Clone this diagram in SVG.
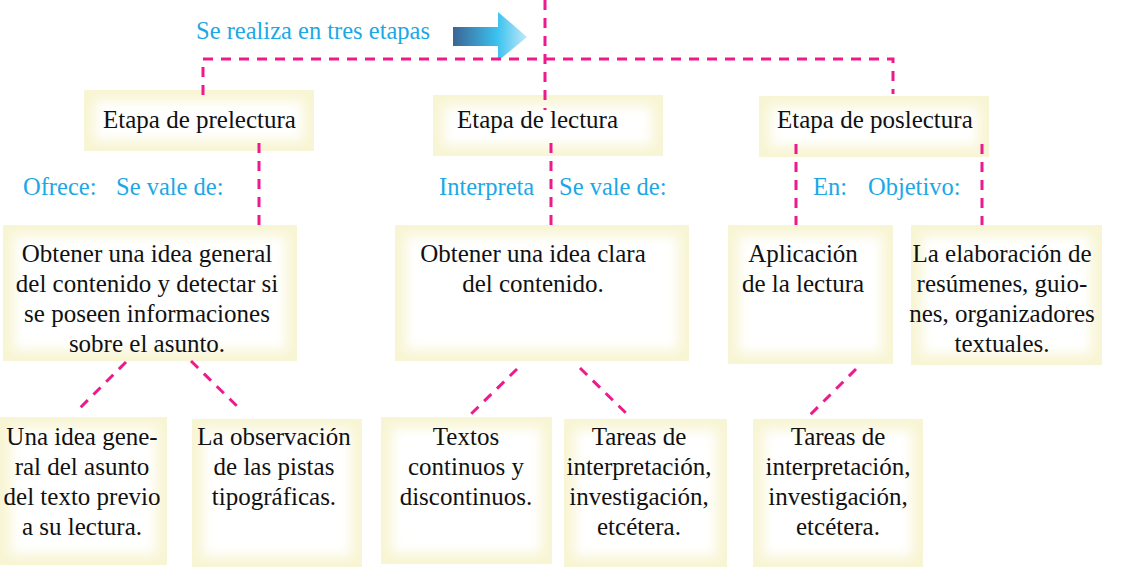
<svg xmlns="http://www.w3.org/2000/svg" width="1139" height="580" viewBox="0 0 1139 580">
<defs>
<style>
.bg{fill:#f8f5d4}
.in{fill:#ffffff;filter:url(#soft)}
.t{font-family:"Liberation Serif","Times New Roman",serif;font-size:25px;fill:#111}
.c{text-anchor:middle}
.b{font-family:"Liberation Serif","Times New Roman",serif;font-size:24.5px;fill:#1ba8e6}
.ln{fill:none;stroke:#ec1a8c;stroke-width:3;stroke-dasharray:10 8}
</style>
<filter id="soft" x="-30%" y="-30%" width="160%" height="160%">
<feGaussianBlur stdDeviation="6"/>
</filter>
<linearGradient id="ag" x1="453" y1="0" x2="527" y2="0" gradientUnits="userSpaceOnUse">
<stop offset="0" stop-color="#3b6594"/>
<stop offset="0.6" stop-color="#3cc2ef"/>
<stop offset="1" stop-color="#c2e9f8"/>
</linearGradient>
</defs>
<rect width="1139" height="580" fill="#ffffff"/>

<g id="header">
<text class="b" x="196" y="39">Se realiza en tres etapas</text>
<path d="M453,27 H498 V12 L527,37 L498,61 V46 H453 Z" fill="url(#ag)"/>
</g>

<g id="n-prelectura">
<rect class="bg" x="84" y="90" width="230" height="61"/>
<rect class="in" x="95" y="101" width="208" height="39"/>
<text class="t" x="103" y="128">Etapa de prelectura</text>
</g>
<g id="n-lectura">
<rect class="bg" x="433" y="95" width="230" height="61"/>
<rect class="in" x="444" y="106" width="208" height="39"/>
<text class="t" x="457" y="128">Etapa de lectura</text>
</g>
<g id="n-poslectura">
<rect class="bg" x="759" y="96" width="230" height="61"/>
<rect class="in" x="770" y="107" width="208" height="39"/>
<text class="t" x="777" y="128">Etapa de poslectura</text>
</g>

<g id="labels">
<text class="b" x="23" y="195">Ofrece:</text>
<text class="b" x="116" y="195">Se vale de:</text>
<text class="b" x="439" y="195">Interpreta</text>
<text class="b" x="559" y="195">Se vale de:</text>
<text class="b" x="813" y="195">En:</text>
<text class="b" x="868" y="195">Objetivo:</text>
</g>

<g id="n-obtener-general">
<rect class="bg" x="3" y="225" width="294" height="136"/>
<rect class="in" x="14" y="236" width="272" height="114"/>
<text class="t c" x="147" y="262">Obtener una idea general</text>
<text class="t c" x="147" y="292">del contenido y detectar si</text>
<text class="t c" x="147" y="322">se poseen informaciones</text>
<text class="t c" x="147" y="352">sobre el asunto.</text>
</g>
<g id="n-obtener-clara">
<rect class="bg" x="395" y="225" width="294" height="136"/>
<rect class="in" x="406" y="236" width="272" height="114"/>
<text class="t c" x="533" y="262">Obtener una idea clara</text>
<text class="t c" x="533" y="292">del contenido.</text>
</g>
<g id="n-aplicacion">
<rect class="bg" x="728" y="225" width="165" height="139"/>
<rect class="in" x="739" y="236" width="143" height="117"/>
<text class="t c" x="803" y="262">Aplicación</text>
<text class="t c" x="803" y="292">de la lectura</text>
</g>
<g id="n-elaboracion">
<rect class="bg" x="911" y="225" width="191" height="140"/>
<rect class="in" x="922" y="236" width="169" height="118"/>
<text class="t c" x="1002" y="262">La elaboración de</text>
<text class="t c" x="1002" y="292">resúmenes, guio-</text>
<text class="t c" x="1002" y="322">nes, organizadores</text>
<text class="t c" x="1002" y="352">textuales.</text>
</g>

<g id="n-idea-general">
<rect class="bg" x="0" y="417" width="167" height="148"/>
<rect class="in" x="11" y="428" width="145" height="126"/>
<text class="t c" x="82" y="445">Una idea gene-</text>
<text class="t c" x="82" y="475">ral del asunto</text>
<text class="t c" x="82" y="505">del texto previo</text>
<text class="t c" x="82" y="535">a su lectura.</text>
</g>
<g id="n-observacion">
<rect class="bg" x="192" y="419" width="170" height="148"/>
<rect class="in" x="203" y="430" width="148" height="126"/>
<text class="t c" x="274" y="445">La observación</text>
<text class="t c" x="274" y="475">de las pistas</text>
<text class="t c" x="274" y="505">tipográficas.</text>
</g>
<g id="n-textos">
<rect class="bg" x="381" y="417" width="171" height="147"/>
<rect class="in" x="392" y="428" width="149" height="125"/>
<text class="t c" x="466" y="445">Textos</text>
<text class="t c" x="466" y="475">continuos y</text>
<text class="t c" x="466" y="505">discontinuos.</text>
</g>
<g id="n-tareas-1">
<rect class="bg" x="564" y="419" width="163" height="148"/>
<rect class="in" x="575" y="430" width="141" height="126"/>
<text class="t c" x="639" y="445">Tareas de</text>
<text class="t c" x="639" y="475">interpretación,</text>
<text class="t c" x="639" y="505">investigación,</text>
<text class="t c" x="639" y="535">etcétera.</text>
</g>
<g id="n-tareas-2">
<rect class="bg" x="753" y="419" width="170" height="148"/>
<rect class="in" x="764" y="430" width="148" height="126"/>
<text class="t c" x="838" y="445">Tareas de</text>
<text class="t c" x="838" y="475">interpretación,</text>
<text class="t c" x="838" y="505">investigación,</text>
<text class="t c" x="838" y="535">etcétera.</text>
</g>

<g id="connectors">
<path class="ln" d="M545,0 V110"/>
<path class="ln" d="M203,95 V59 H893 V94"/>
<path class="ln" d="M259,143 V225"/>
<path class="ln" d="M551,143 V225"/>
<path class="ln" d="M796,144 V225"/>
<path class="ln" d="M982,144 V225"/>
<path class="ln" d="M126,362 L79,409"/>
<path class="ln" d="M191,361 L241,410"/>
<path class="ln" d="M517,369 L468,417"/>
<path class="ln" d="M580,368 L630,417"/>
<path class="ln" d="M856,369 L808,417"/>
</g>
</svg>
